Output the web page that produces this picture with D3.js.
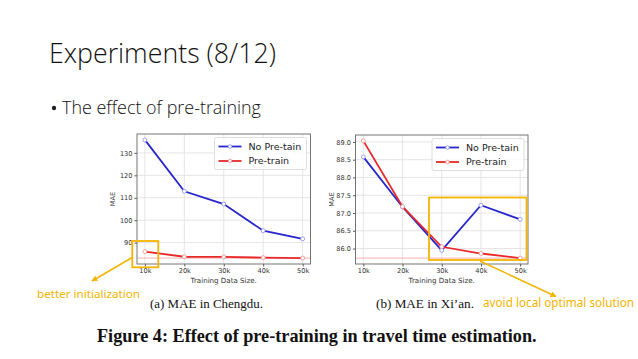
<!DOCTYPE html>
<html><head><meta charset="utf-8">
<script src="https://cdn.jsdelivr.net/npm/d3@7"></script>
<style>html,body{margin:0;padding:0;background:#fff;}svg{display:block;}</style>
</head><body>
<svg id="c" width="638" height="359"></svg>
<script>
// ---- data ----
const sizes = [10, 20, 30, 40, 50];
const xTickLabels = ["10k", "20k", "30k", "40k", "50k"];
const seriesNames = ["No Pre-tain", "Pre-train"];
const chengduNoPre = [135.8, 112.9, 107.2, 95.3, 91.7];
const chengduPre = [86.0, 83.7, 83.6, 83.3, 83.1];
const xianNoPre = [88.58, 87.17, 85.95, 87.22, 86.82];
const xianPre = [89.03, 87.18, 86.05, 85.86, 85.73];
const chengduYTicks = [90, 100, 110, 120, 130];
const xianYTicks = [86.0, 86.5, 87.0, 87.5, 88.0, 88.5, 89.0];

const svg = d3.select("#c");
const BLUE = "#2626cc", RED = "#e82828", GOLD = "#f4b400";
const colors = [BLUE, RED];
const markerStroke = ["#8a8af0", "#f08a8a"];

function fit(t, w) {
  const cur = t.node().getComputedTextLength();
  const fs = parseFloat(t.attr("font-size"));
  t.attr("font-size", (fs * w / cur).toFixed(2));
  return t;
}

// ---- slide text ----
fit(svg.append("text").attr("x", 49).attr("y", 63).attr("font-family", "'Open Sans','Noto Sans',sans-serif")
  .attr("font-weight", 300).attr("font-size", 26).attr("fill", "#111").text("Experiments (8/12)"), 227);
svg.append("circle").attr("cx", 54).attr("cy", 108).attr("r", 2.2).attr("fill", "#222");
fit(svg.append("text").attr("x", 62).attr("y", 114).attr("font-family", "'Open Sans','Noto Sans',sans-serif")
  .attr("font-weight", 300).attr("font-size", 17).attr("fill", "#111").text("The effect of pre-training"), 199);

function chart(cfg) {
  const {left, right, top, bottom, a, b, yTicks, fmt} = cfg;
  const all = a.concat(b);
  const ext = d3.extent(all), pad = (ext[1] - ext[0]) * 0.05;
  const x = d3.scaleLinear().domain([sizes[0] - 2, sizes[sizes.length - 1] + 2]).range([left, right]);
  const y = d3.scaleLinear().domain([ext[0] - pad, ext[1] + pad]).range([bottom, top]);
  const g = svg.append("g");
  // grid
  g.selectAll(".gx").data(sizes).join("line").attr("x1", d => x(d)).attr("x2", d => x(d))
    .attr("y1", top).attr("y2", bottom).attr("stroke", "#dedede").attr("stroke-width", 0.8);
  g.selectAll(".gy").data(yTicks).join("line").attr("y1", d => y(d)).attr("y2", d => y(d))
    .attr("x1", left).attr("x2", right).attr("stroke", "#dedede").attr("stroke-width", 0.8);
  // axes
  const xa = g.append("g").attr("transform", `translate(0,${bottom})`)
    .call(d3.axisBottom(x).tickValues(sizes).tickFormat((d, i) => xTickLabels[i]).tickSize(2.5).tickPadding(2));
  const ya = g.append("g").attr("transform", `translate(${left},0)`)
    .call(d3.axisLeft(y).tickValues(yTicks).tickFormat(d3.format(fmt)).tickSize(2.5).tickPadding(2));
  [xa, ya].forEach(ax => {
    ax.select(".domain").remove();
    ax.selectAll("line").attr("stroke", "#555");
    ax.selectAll("text").attr("font-family", "'DejaVu Sans',sans-serif").attr("font-size", 6.6).attr("fill", "#333");
  });
  // faint min line for pre-train
  g.append("line").attr("x1", left).attr("x2", right).attr("y1", y(d3.min(b))).attr("y2", y(d3.min(b)))
    .attr("stroke", "#f4a0a0").attr("stroke-width", 0.8);
  // frame
  g.append("rect").attr("x", left).attr("y", top).attr("width", right - left).attr("height", bottom - top)
    .attr("fill", "none").attr("stroke", "#666").attr("stroke-width", 0.9);
  // lines
  const line = d3.line().x((d, i) => x(sizes[i])).y(d => y(d));
  [a, b].forEach((s, k) => {
    g.append("path").datum(s).attr("d", line).attr("fill", "none").attr("stroke", colors[k]).attr("stroke-width", 1.8);
    g.selectAll(null).data(s).join("circle").attr("cx", (d, i) => x(sizes[i])).attr("cy", d => y(d)).attr("r", 2)
      .attr("fill", "#fff").attr("stroke", markerStroke[k]).attr("stroke-width", 0.8);
  });
  // labels
  g.append("text").attr("x", (left + right) / 2).attr("y", bottom + 19).attr("text-anchor", "middle")
    .attr("font-family", "'DejaVu Sans',sans-serif").attr("font-size", 7.1).attr("fill", "#333").text("Training Data Size.");
  g.append("text").attr("transform", `translate(${left - 22},${(top + bottom) / 2}) rotate(-90)`).attr("text-anchor", "middle")
    .attr("font-family", "'DejaVu Sans',sans-serif").attr("font-size", 6.6).attr("fill", "#333").text("MAE");
  // legend
  const lw = 92, lh = 32, lx = right - 4 - lw, ly = top + 3.5;
  const lg = g.append("g").attr("transform", `translate(${lx},${ly})`);
  lg.append("rect").attr("width", lw).attr("height", lh).attr("rx", 2).attr("fill", "#fff").attr("fill-opacity", 0.85)
    .attr("stroke", "#d6d6d6").attr("stroke-width", 0.8);
  seriesNames.forEach((n, k) => {
    const yy = 9 + k * 14.5;
    lg.append("line").attr("x1", 4).attr("x2", 27).attr("y1", yy).attr("y2", yy).attr("stroke", colors[k]).attr("stroke-width", 1.8);
    lg.append("circle").attr("cx", 15.5).attr("cy", yy).attr("r", 1.8).attr("fill", "#fff").attr("stroke", markerStroke[k]).attr("stroke-width", 0.8);
    lg.append("text").attr("x", 34).attr("y", yy).attr("dy", "0.35em").attr("font-family", "'DejaVu Sans',sans-serif")
      .attr("font-size", 9.5).attr("fill", "#222").text(n);
  });
  return {x, y};
}

chart({left: 137, right: 310.5, top: 134, bottom: 264, a: chengduNoPre, b: chengduPre, yTicks: chengduYTicks, fmt: "d"});
chart({left: 355.5, right: 528, top: 135, bottom: 264, a: xianNoPre, b: xianPre, yTicks: xianYTicks, fmt: ".1f"});

// ---- annotations ----
const defs = svg.append("defs");
defs.append("marker").attr("id", "ah").attr("viewBox", "0 0 10 10").attr("refX", 9).attr("refY", 5)
  .attr("markerWidth", 6).attr("markerHeight", 6).attr("orient", "auto-start-reverse").attr("markerUnits", "userSpaceOnUse")
  .append("path").attr("d", "M0,0 L10,5 L0,10 z").attr("fill", GOLD);
svg.append("rect").attr("x", 132.3).attr("y", 241).attr("width", 26).attr("height", 26.3)
  .attr("fill", "none").attr("stroke", GOLD).attr("stroke-width", 1.8);
svg.append("rect").attr("x", 429).attr("y", 197.5).attr("width", 97.5).attr("height", 62.5)
  .attr("fill", "none").attr("stroke", GOLD).attr("stroke-width", 1.8);
svg.append("line").attr("x1", 133).attr("y1", 257).attr("x2", 92).attr("y2", 281)
  .attr("stroke", GOLD).attr("stroke-width", 1.5).attr("marker-end", "url(#ah)");
svg.append("line").attr("x1", 480).attr("y1", 261).attr("x2", 556).attr("y2", 296.5)
  .attr("stroke", GOLD).attr("stroke-width", 1.5).attr("marker-end", "url(#ah)");
fit(svg.append("text").attr("x", 37).attr("y", 298).attr("font-family", "'Noto Sans',sans-serif").attr("font-size", 10)
  .attr("fill", GOLD).text("better initialization"), 103);
fit(svg.append("text").attr("x", 483).attr("y", 307).attr("font-family", "'Noto Sans',sans-serif").attr("font-size", 10)
  .attr("fill", GOLD).text("avoid local optimal solution"), 151);

// ---- captions ----
fit(svg.append("text").attr("x", 150).attr("y", 307.5).attr("font-family", "'Liberation Serif',serif").attr("font-size", 13)
  .attr("fill", "#111").text("(a)  MAE in Chengdu."), 113);
fit(svg.append("text").attr("x", 376).attr("y", 307.5).attr("font-family", "'Liberation Serif',serif").attr("font-size", 13)
  .attr("fill", "#111").text("(b)  MAE in Xi’an."), 98);
fit(svg.append("text").attr("x", 97).attr("y", 342).attr("font-family", "'Liberation Serif',serif").attr("font-weight", "bold")
  .attr("font-size", 16).attr("fill", "#111").text("Figure 4: Effect of pre-training in travel time estimation."), 440);
</script>
</body></html>
